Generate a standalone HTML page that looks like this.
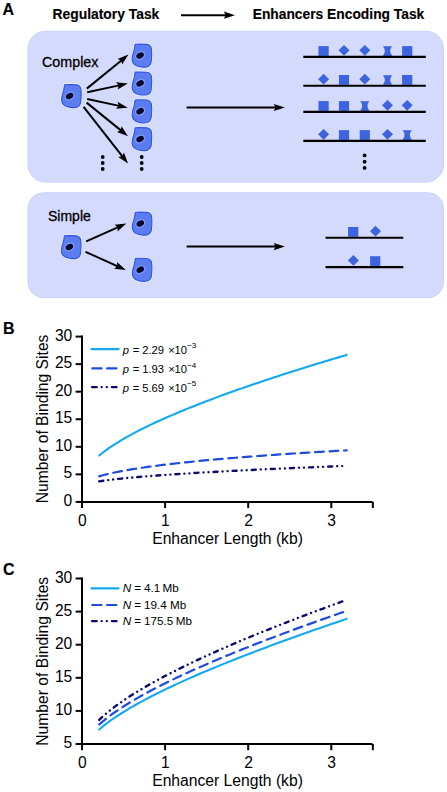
<!DOCTYPE html>
<html><head><meta charset="utf-8"><style>
html,body{margin:0;padding:0;background:#fff;width:447px;height:792px;overflow:hidden}
svg{display:block}
text{font-family:"Liberation Sans",sans-serif;fill:#000;stroke:#000;stroke-width:0px}
.r{stroke-width:0.3px}
.b{font-weight:bold;stroke-width:0.15px}
</style></head><body>
<svg width="447" height="792" viewBox="0 0 447 792">
<text x="2.5" y="14.7" class="b" font-size="16">A</text>
<text x="52.6" y="18.5" class="b" font-size="14" textLength="106.7" lengthAdjust="spacingAndGlyphs">Regulatory Task</text>
<text x="252.7" y="18.5" class="b" font-size="14" textLength="171.6" lengthAdjust="spacingAndGlyphs">Enhancers Encoding Task</text>
<line x1="181.00" y1="15.20" x2="226.20" y2="15.20" stroke="#000" stroke-width="2.0"/>
<path d="M235.00,15.20 L223.80,18.80 L225.70,15.20 L223.80,11.60 Z" fill="#000"/>
<rect x="28" y="31.2" width="415.5" height="150.9" rx="17.5" fill="#d3dafc" stroke="#c9d2fb" stroke-width="1"/>
<rect x="28" y="192.7" width="415.5" height="105" rx="15.5" fill="#d3dafc" stroke="#c9d2fb" stroke-width="1"/>
<text x="42.0" y="66.9" font-size="14.3" class="r">Complex</text>
<text x="48.0" y="220.6" font-size="14" class="r">Simple</text>
<g transform="translate(61.6,84.5) scale(0.1960,0.2310)"><path d="M16,1 C35,0 60,0.5 75,1.5 C88,2.5 96,8 98.5,20 C100.5,32 100,55 97.5,76 C96,88 90,96 76,99 C62,101 45,100.5 30,96.5 C12,92 1,82 0,68 C-0.5,58 4,42 9,30 C12,22 14,12 14.5,5 C14.7,2.5 15,1.2 16,1 Z" fill="none" stroke="#fff" stroke-opacity="0.55" stroke-width="2.6" vector-effect="non-scaling-stroke"/><path d="M16,1 C35,0 60,0.5 75,1.5 C88,2.5 96,8 98.5,20 C100.5,32 100,55 97.5,76 C96,88 90,96 76,99 C62,101 45,100.5 30,96.5 C12,92 1,82 0,68 C-0.5,58 4,42 9,30 C12,22 14,12 14.5,5 C14.7,2.5 15,1.2 16,1 Z" fill="#5b7df0" stroke="#2f52e4" stroke-width="1.1" vector-effect="non-scaling-stroke"/></g>
<ellipse cx="69.60" cy="96.00" rx="5.3" ry="4.1" transform="rotate(-30 69.60 96.00)" fill="#809df8"/>
<ellipse cx="69.60" cy="96.00" rx="4.0" ry="2.8" transform="rotate(-30 69.60 96.00)" fill="#07062e"/>
<g transform="translate(132.1,44.0) scale(0.1960,0.2310)"><path d="M16,1 C35,0 60,0.5 75,1.5 C88,2.5 96,8 98.5,20 C100.5,32 100,55 97.5,76 C96,88 90,96 76,99 C62,101 45,100.5 30,96.5 C12,92 1,82 0,68 C-0.5,58 4,42 9,30 C12,22 14,12 14.5,5 C14.7,2.5 15,1.2 16,1 Z" fill="none" stroke="#fff" stroke-opacity="0.55" stroke-width="2.6" vector-effect="non-scaling-stroke"/><path d="M16,1 C35,0 60,0.5 75,1.5 C88,2.5 96,8 98.5,20 C100.5,32 100,55 97.5,76 C96,88 90,96 76,99 C62,101 45,100.5 30,96.5 C12,92 1,82 0,68 C-0.5,58 4,42 9,30 C12,22 14,12 14.5,5 C14.7,2.5 15,1.2 16,1 Z" fill="#5b7df0" stroke="#2f52e4" stroke-width="1.1" vector-effect="non-scaling-stroke"/></g>
<ellipse cx="140.10" cy="55.50" rx="5.3" ry="4.1" transform="rotate(-30 140.10 55.50)" fill="#809df8"/>
<ellipse cx="140.10" cy="55.50" rx="4.0" ry="2.8" transform="rotate(-30 140.10 55.50)" fill="#07062e"/>
<g transform="translate(132.1,71.9) scale(0.1960,0.2310)"><path d="M16,1 C35,0 60,0.5 75,1.5 C88,2.5 96,8 98.5,20 C100.5,32 100,55 97.5,76 C96,88 90,96 76,99 C62,101 45,100.5 30,96.5 C12,92 1,82 0,68 C-0.5,58 4,42 9,30 C12,22 14,12 14.5,5 C14.7,2.5 15,1.2 16,1 Z" fill="none" stroke="#fff" stroke-opacity="0.55" stroke-width="2.6" vector-effect="non-scaling-stroke"/><path d="M16,1 C35,0 60,0.5 75,1.5 C88,2.5 96,8 98.5,20 C100.5,32 100,55 97.5,76 C96,88 90,96 76,99 C62,101 45,100.5 30,96.5 C12,92 1,82 0,68 C-0.5,58 4,42 9,30 C12,22 14,12 14.5,5 C14.7,2.5 15,1.2 16,1 Z" fill="#5b7df0" stroke="#2f52e4" stroke-width="1.1" vector-effect="non-scaling-stroke"/></g>
<ellipse cx="140.10" cy="83.40" rx="5.3" ry="4.1" transform="rotate(-30 140.10 83.40)" fill="#809df8"/>
<ellipse cx="140.10" cy="83.40" rx="4.0" ry="2.8" transform="rotate(-30 140.10 83.40)" fill="#07062e"/>
<g transform="translate(132.1,99.7) scale(0.1960,0.2310)"><path d="M16,1 C35,0 60,0.5 75,1.5 C88,2.5 96,8 98.5,20 C100.5,32 100,55 97.5,76 C96,88 90,96 76,99 C62,101 45,100.5 30,96.5 C12,92 1,82 0,68 C-0.5,58 4,42 9,30 C12,22 14,12 14.5,5 C14.7,2.5 15,1.2 16,1 Z" fill="none" stroke="#fff" stroke-opacity="0.55" stroke-width="2.6" vector-effect="non-scaling-stroke"/><path d="M16,1 C35,0 60,0.5 75,1.5 C88,2.5 96,8 98.5,20 C100.5,32 100,55 97.5,76 C96,88 90,96 76,99 C62,101 45,100.5 30,96.5 C12,92 1,82 0,68 C-0.5,58 4,42 9,30 C12,22 14,12 14.5,5 C14.7,2.5 15,1.2 16,1 Z" fill="#5b7df0" stroke="#2f52e4" stroke-width="1.1" vector-effect="non-scaling-stroke"/></g>
<ellipse cx="140.10" cy="111.20" rx="5.3" ry="4.1" transform="rotate(-30 140.10 111.20)" fill="#809df8"/>
<ellipse cx="140.10" cy="111.20" rx="4.0" ry="2.8" transform="rotate(-30 140.10 111.20)" fill="#07062e"/>
<g transform="translate(132.1,127.5) scale(0.1960,0.2310)"><path d="M16,1 C35,0 60,0.5 75,1.5 C88,2.5 96,8 98.5,20 C100.5,32 100,55 97.5,76 C96,88 90,96 76,99 C62,101 45,100.5 30,96.5 C12,92 1,82 0,68 C-0.5,58 4,42 9,30 C12,22 14,12 14.5,5 C14.7,2.5 15,1.2 16,1 Z" fill="none" stroke="#fff" stroke-opacity="0.55" stroke-width="2.6" vector-effect="non-scaling-stroke"/><path d="M16,1 C35,0 60,0.5 75,1.5 C88,2.5 96,8 98.5,20 C100.5,32 100,55 97.5,76 C96,88 90,96 76,99 C62,101 45,100.5 30,96.5 C12,92 1,82 0,68 C-0.5,58 4,42 9,30 C12,22 14,12 14.5,5 C14.7,2.5 15,1.2 16,1 Z" fill="#5b7df0" stroke="#2f52e4" stroke-width="1.1" vector-effect="non-scaling-stroke"/></g>
<ellipse cx="140.10" cy="139.00" rx="5.3" ry="4.1" transform="rotate(-30 140.10 139.00)" fill="#809df8"/>
<ellipse cx="140.10" cy="139.00" rx="4.0" ry="2.8" transform="rotate(-30 140.10 139.00)" fill="#07062e"/>
<line x1="86.80" y1="88.60" x2="121.68" y2="60.16" stroke="#000" stroke-width="2.0"/>
<path d="M128.50,54.60 L122.09,64.47 L121.29,60.48 L117.54,58.89 Z" fill="#000"/>
<line x1="87.20" y1="92.30" x2="119.20" y2="85.36" stroke="#000" stroke-width="2.0"/>
<path d="M127.80,83.50 L117.62,89.39 L118.71,85.47 L116.09,82.35 Z" fill="#000"/>
<line x1="87.20" y1="99.00" x2="119.20" y2="105.86" stroke="#000" stroke-width="2.0"/>
<path d="M127.80,107.70 L116.09,108.87 L118.71,105.75 L117.60,101.83 Z" fill="#000"/>
<line x1="86.60" y1="102.60" x2="121.17" y2="130.65" stroke="#000" stroke-width="2.0"/>
<path d="M128.00,136.20 L117.04,131.94 L120.78,130.34 L121.57,126.35 Z" fill="#000"/>
<line x1="83.60" y1="106.80" x2="122.58" y2="156.67" stroke="#000" stroke-width="2.0"/>
<path d="M128.00,163.60 L118.27,156.99 L122.27,156.27 L123.94,152.56 Z" fill="#000"/>
<circle cx="102.7" cy="157" r="1.9" fill="#000"/>
<circle cx="102.7" cy="163" r="1.9" fill="#000"/>
<circle cx="102.7" cy="169" r="1.9" fill="#000"/>
<circle cx="141.7" cy="157" r="1.9" fill="#000"/>
<circle cx="141.7" cy="163" r="1.9" fill="#000"/>
<circle cx="141.7" cy="169" r="1.9" fill="#000"/>
<line x1="186.60" y1="107.50" x2="276.10" y2="107.50" stroke="#000" stroke-width="2.0"/>
<path d="M284.90,107.50 L273.70,111.10 L275.60,107.50 L273.70,103.90 Z" fill="#000"/>
<rect x="318.50" y="46.10" width="10.2" height="9.8" fill="#3d63e0"/>
<path d="M344,44.90 L349.50,50.30 L344,55.70 L338.50,50.30 Z" fill="#3d63e0"/>
<path d="M364.8,44.90 L370.30,50.30 L364.8,55.70 L359.30,50.30 Z" fill="#3d63e0"/>
<path d="M382.90,46.30 L392.10,46.30 Q388.20,51.10 392.10,55.90 L382.90,55.90 Q386.80,51.10 382.90,46.30 Z" fill="#3d63e0"/>
<rect x="402.10" y="46.10" width="10.2" height="9.8" fill="#3d63e0"/>
<line x1="303.3" y1="56.9" x2="425.8" y2="56.9" stroke="#000" stroke-width="2.1"/>
<path d="M323.6,73.80 L329.10,79.20 L323.6,84.60 L318.10,79.20 Z" fill="#3d63e0"/>
<rect x="338.90" y="75.00" width="10.2" height="9.8" fill="#3d63e0"/>
<path d="M364.8,73.80 L370.30,79.20 L364.8,84.60 L359.30,79.20 Z" fill="#3d63e0"/>
<path d="M382.90,75.20 L392.10,75.20 Q388.20,80.00 392.10,84.80 L382.90,84.80 Q386.80,80.00 382.90,75.20 Z" fill="#3d63e0"/>
<rect x="402.10" y="75.00" width="10.2" height="9.8" fill="#3d63e0"/>
<line x1="303.3" y1="85.8" x2="425.8" y2="85.8" stroke="#000" stroke-width="2.1"/>
<rect x="318.50" y="101.10" width="10.2" height="9.8" fill="#3d63e0"/>
<rect x="338.90" y="101.10" width="10.2" height="9.8" fill="#3d63e0"/>
<path d="M360.20,101.30 L369.40,101.30 Q365.50,106.10 369.40,110.90 L360.20,110.90 Q364.10,106.10 360.20,101.30 Z" fill="#3d63e0"/>
<path d="M387.5,99.90 L393.00,105.30 L387.5,110.70 L382.00,105.30 Z" fill="#3d63e0"/>
<path d="M407.2,99.90 L412.70,105.30 L407.2,110.70 L401.70,105.30 Z" fill="#3d63e0"/>
<line x1="303.3" y1="111.9" x2="425.8" y2="111.9" stroke="#000" stroke-width="2.1"/>
<path d="M323.6,128.90 L329.10,134.30 L323.6,139.70 L318.10,134.30 Z" fill="#3d63e0"/>
<rect x="338.90" y="130.10" width="10.2" height="9.8" fill="#3d63e0"/>
<rect x="359.70" y="130.10" width="10.2" height="9.8" fill="#3d63e0"/>
<path d="M387.5,128.90 L393.00,134.30 L387.5,139.70 L382.00,134.30 Z" fill="#3d63e0"/>
<path d="M402.60,130.30 L411.80,130.30 Q407.90,135.10 411.80,139.90 L402.60,139.90 Q406.50,135.10 402.60,130.30 Z" fill="#3d63e0"/>
<line x1="303.3" y1="140.9" x2="425.8" y2="140.9" stroke="#000" stroke-width="2.1"/>
<circle cx="364.6" cy="155.4" r="1.9" fill="#000"/>
<circle cx="364.6" cy="161.7" r="1.9" fill="#000"/>
<circle cx="364.6" cy="167.9" r="1.9" fill="#000"/>
<g transform="translate(61.4,235.5) scale(0.1960,0.2310)"><path d="M16,1 C35,0 60,0.5 75,1.5 C88,2.5 96,8 98.5,20 C100.5,32 100,55 97.5,76 C96,88 90,96 76,99 C62,101 45,100.5 30,96.5 C12,92 1,82 0,68 C-0.5,58 4,42 9,30 C12,22 14,12 14.5,5 C14.7,2.5 15,1.2 16,1 Z" fill="none" stroke="#fff" stroke-opacity="0.55" stroke-width="2.6" vector-effect="non-scaling-stroke"/><path d="M16,1 C35,0 60,0.5 75,1.5 C88,2.5 96,8 98.5,20 C100.5,32 100,55 97.5,76 C96,88 90,96 76,99 C62,101 45,100.5 30,96.5 C12,92 1,82 0,68 C-0.5,58 4,42 9,30 C12,22 14,12 14.5,5 C14.7,2.5 15,1.2 16,1 Z" fill="#5b7df0" stroke="#2f52e4" stroke-width="1.1" vector-effect="non-scaling-stroke"/></g>
<ellipse cx="69.40" cy="247.00" rx="5.3" ry="4.1" transform="rotate(-30 69.40 247.00)" fill="#809df8"/>
<ellipse cx="69.40" cy="247.00" rx="4.0" ry="2.8" transform="rotate(-30 69.40 247.00)" fill="#07062e"/>
<g transform="translate(132.3,212.0) scale(0.1960,0.2310)"><path d="M16,1 C35,0 60,0.5 75,1.5 C88,2.5 96,8 98.5,20 C100.5,32 100,55 97.5,76 C96,88 90,96 76,99 C62,101 45,100.5 30,96.5 C12,92 1,82 0,68 C-0.5,58 4,42 9,30 C12,22 14,12 14.5,5 C14.7,2.5 15,1.2 16,1 Z" fill="none" stroke="#fff" stroke-opacity="0.55" stroke-width="2.6" vector-effect="non-scaling-stroke"/><path d="M16,1 C35,0 60,0.5 75,1.5 C88,2.5 96,8 98.5,20 C100.5,32 100,55 97.5,76 C96,88 90,96 76,99 C62,101 45,100.5 30,96.5 C12,92 1,82 0,68 C-0.5,58 4,42 9,30 C12,22 14,12 14.5,5 C14.7,2.5 15,1.2 16,1 Z" fill="#5b7df0" stroke="#2f52e4" stroke-width="1.1" vector-effect="non-scaling-stroke"/></g>
<ellipse cx="140.30" cy="223.50" rx="5.3" ry="4.1" transform="rotate(-30 140.30 223.50)" fill="#809df8"/>
<ellipse cx="140.30" cy="223.50" rx="4.0" ry="2.8" transform="rotate(-30 140.30 223.50)" fill="#07062e"/>
<g transform="translate(132.3,258.2) scale(0.1960,0.2310)"><path d="M16,1 C35,0 60,0.5 75,1.5 C88,2.5 96,8 98.5,20 C100.5,32 100,55 97.5,76 C96,88 90,96 76,99 C62,101 45,100.5 30,96.5 C12,92 1,82 0,68 C-0.5,58 4,42 9,30 C12,22 14,12 14.5,5 C14.7,2.5 15,1.2 16,1 Z" fill="none" stroke="#fff" stroke-opacity="0.55" stroke-width="2.6" vector-effect="non-scaling-stroke"/><path d="M16,1 C35,0 60,0.5 75,1.5 C88,2.5 96,8 98.5,20 C100.5,32 100,55 97.5,76 C96,88 90,96 76,99 C62,101 45,100.5 30,96.5 C12,92 1,82 0,68 C-0.5,58 4,42 9,30 C12,22 14,12 14.5,5 C14.7,2.5 15,1.2 16,1 Z" fill="#5b7df0" stroke="#2f52e4" stroke-width="1.1" vector-effect="non-scaling-stroke"/></g>
<ellipse cx="140.30" cy="269.70" rx="5.3" ry="4.1" transform="rotate(-30 140.30 269.70)" fill="#809df8"/>
<ellipse cx="140.30" cy="269.70" rx="4.0" ry="2.8" transform="rotate(-30 140.30 269.70)" fill="#07062e"/>
<line x1="86.20" y1="241.40" x2="118.26" y2="227.17" stroke="#000" stroke-width="2.0"/>
<path d="M126.30,223.60 L117.52,231.43 L117.80,227.37 L114.60,224.85 Z" fill="#000"/>
<line x1="85.50" y1="251.80" x2="117.78" y2="266.38" stroke="#000" stroke-width="2.0"/>
<path d="M125.80,270.00 L114.11,268.67 L117.32,266.17 L117.07,262.11 Z" fill="#000"/>
<line x1="186.60" y1="246.60" x2="276.10" y2="246.60" stroke="#000" stroke-width="2.0"/>
<path d="M284.90,246.60 L273.70,250.20 L275.60,246.60 L273.70,243.00 Z" fill="#000"/>
<rect x="348.10" y="227.00" width="10.2" height="9.8" fill="#3d63e0"/>
<path d="M375.5,225.80 L381.00,231.20 L375.5,236.60 L370.00,231.20 Z" fill="#3d63e0"/>
<line x1="325.5" y1="237.8" x2="403.3" y2="237.8" stroke="#000" stroke-width="2.1"/>
<path d="M353.4,255.00 L358.90,260.40 L353.4,265.80 L347.90,260.40 Z" fill="#3d63e0"/>
<rect x="370.10" y="256.20" width="10.2" height="9.8" fill="#3d63e0"/>
<line x1="325.5" y1="267.1" x2="403.3" y2="267.1" stroke="#000" stroke-width="2.1"/>
<text x="3.0" y="334.3" class="b" font-size="16">B</text>
<path d="M82,335.60 L82,501.90 L372.5,501.90" fill="none" stroke="#000" stroke-width="2"/>
<line x1="75.6" y1="501.90" x2="82" y2="501.90" stroke="#000" stroke-width="2"/>
<text x="72.3" y="505.90" font-size="15.6" text-anchor="end">0</text>
<line x1="75.6" y1="474.35" x2="82" y2="474.35" stroke="#000" stroke-width="2"/>
<text x="72.3" y="478.35" font-size="15.6" text-anchor="end">5</text>
<line x1="75.6" y1="446.80" x2="82" y2="446.80" stroke="#000" stroke-width="2"/>
<text x="72.3" y="450.80" font-size="15.6" text-anchor="end">10</text>
<line x1="75.6" y1="419.25" x2="82" y2="419.25" stroke="#000" stroke-width="2"/>
<text x="72.3" y="423.25" font-size="15.6" text-anchor="end">15</text>
<line x1="75.6" y1="391.70" x2="82" y2="391.70" stroke="#000" stroke-width="2"/>
<text x="72.3" y="395.70" font-size="15.6" text-anchor="end">20</text>
<line x1="75.6" y1="364.15" x2="82" y2="364.15" stroke="#000" stroke-width="2"/>
<text x="72.3" y="368.15" font-size="15.6" text-anchor="end">25</text>
<line x1="75.6" y1="336.60" x2="82" y2="336.60" stroke="#000" stroke-width="2"/>
<text x="72.3" y="340.60" font-size="15.6" text-anchor="end">30</text>
<line x1="82.00" y1="501.9" x2="82.00" y2="508.10" stroke="#000" stroke-width="2"/>
<text x="82.30" y="525.5" font-size="15.6" text-anchor="middle">0</text>
<line x1="165.10" y1="501.9" x2="165.10" y2="508.10" stroke="#000" stroke-width="2"/>
<text x="165.40" y="525.5" font-size="15.6" text-anchor="middle">1</text>
<line x1="248.20" y1="501.9" x2="248.20" y2="508.10" stroke="#000" stroke-width="2"/>
<text x="248.50" y="525.5" font-size="15.6" text-anchor="middle">2</text>
<line x1="331.30" y1="501.9" x2="331.30" y2="508.10" stroke="#000" stroke-width="2"/>
<text x="331.60" y="525.5" font-size="15.6" text-anchor="middle">3</text>
<line x1="372.85" y1="501.9" x2="372.85" y2="508.10" stroke="#000" stroke-width="2"/>
<text x="152.2" y="543.8" font-size="16" textLength="150.7" lengthAdjust="spacingAndGlyphs">Enhancer Length (kb)</text>
<text transform="translate(47.6,503.30) rotate(-90)" x="0" y="0" font-size="16" textLength="168.7" lengthAdjust="spacingAndGlyphs">Number of Binding Sites</text>
<polyline points="99.20,455.51 101.98,453.25 104.76,451.11 107.54,449.09 110.32,447.16 113.10,445.30 115.89,443.52 118.67,441.79 121.45,440.12 124.23,438.49 127.01,436.91 129.79,435.36 132.57,433.86 135.35,432.38 138.13,430.93 140.91,429.52 143.69,428.13 146.47,426.76 149.25,425.41 152.03,424.09 154.81,422.79 157.59,421.50 160.37,420.24 163.16,418.99 165.94,417.76 168.72,416.54 171.50,415.34 174.28,414.15 177.06,412.97 179.84,411.81 182.62,410.66 185.40,409.52 188.18,408.39 190.96,407.27 193.74,406.16 196.52,405.07 199.30,403.98 202.08,402.90 204.86,401.83 207.64,400.77 210.42,399.72 213.21,398.67 215.99,397.64 218.77,396.61 221.55,395.59 224.33,394.57 227.11,393.56 229.89,392.56 232.67,391.57 235.45,390.58 238.23,389.60 241.01,388.62 243.79,387.65 246.57,386.69 249.35,385.73 252.13,384.78 254.91,383.83 257.69,382.89 260.48,381.95 263.26,381.02 266.04,380.09 268.82,379.17 271.60,378.25 274.38,377.34 277.16,376.43 279.94,375.52 282.72,374.62 285.50,373.72 288.28,372.83 291.06,371.94 293.84,371.06 296.62,370.17 299.40,369.30 302.18,368.42 304.96,367.55 307.75,366.69 310.53,365.82 313.31,364.96 316.09,364.11 318.87,363.25 321.65,362.40 324.43,361.56 327.21,360.71 329.99,359.87 332.77,359.04 335.55,358.20 338.33,357.37 341.11,356.54 343.89,355.71 346.67,354.89" fill="none" stroke="#12a8f2" stroke-width="2.1" stroke-linecap="round" stroke-linejoin="round"/>
<polyline points="99.20,476.32 101.98,475.52 104.76,474.78 107.54,474.09 110.32,473.44 113.10,472.83 115.89,472.24 118.67,471.68 121.45,471.15 124.23,470.64 127.01,470.14 129.79,469.66 132.57,469.20 135.35,468.76 138.13,468.33 140.91,467.91 143.69,467.50 146.47,467.10 149.25,466.71 152.03,466.33 154.81,465.96 157.59,465.60 160.37,465.25 163.16,464.91 165.94,464.57 168.72,464.24 171.50,463.91 174.28,463.60 177.06,463.28 179.84,462.98 182.62,462.68 185.40,462.38 188.18,462.09 190.96,461.80 193.74,461.52 196.52,461.24 199.30,460.97 202.08,460.70 204.86,460.44 207.64,460.18 210.42,459.92 213.21,459.67 215.99,459.42 218.77,459.17 221.55,458.93 224.33,458.69 227.11,458.45 229.89,458.22 232.67,457.99 235.45,457.76 238.23,457.53 241.01,457.31 243.79,457.09 246.57,456.87 249.35,456.66 252.13,456.44 254.91,456.23 257.69,456.02 260.48,455.82 263.26,455.62 266.04,455.41 268.82,455.21 271.60,455.02 274.38,454.82 277.16,454.63 279.94,454.44 282.72,454.25 285.50,454.06 288.28,453.88 291.06,453.69 293.84,453.51 296.62,453.33 299.40,453.15 302.18,452.97 304.96,452.80 307.75,452.62 310.53,452.45 313.31,452.28 316.09,452.11 318.87,451.94 321.65,451.78 324.43,451.61 327.21,451.45 329.99,451.28 332.77,451.12 335.55,450.96 338.33,450.80 341.11,450.65 343.89,450.49 346.67,450.34" fill="none" stroke="#1f4bdc" stroke-width="2.2" stroke-linecap="round" stroke-linejoin="round" stroke-dasharray="8.8 5.7"/>
<polyline points="99.20,481.40 101.98,480.97 104.76,480.58 107.54,480.21 110.32,479.86 113.10,479.52 115.89,479.21 118.67,478.90 121.45,478.61 124.23,478.32 127.01,478.05 129.79,477.78 132.57,477.53 135.35,477.28 138.13,477.03 140.91,476.80 143.69,476.56 146.47,476.34 149.25,476.12 152.03,475.90 154.81,475.69 157.59,475.48 160.37,475.28 163.16,475.08 165.94,474.88 168.72,474.69 171.50,474.50 174.28,474.31 177.06,474.13 179.84,473.94 182.62,473.77 185.40,473.59 188.18,473.42 190.96,473.24 193.74,473.08 196.52,472.91 199.30,472.74 202.08,472.58 204.86,472.42 207.64,472.26 210.42,472.11 213.21,471.95 215.99,471.80 218.77,471.65 221.55,471.50 224.33,471.35 227.11,471.20 229.89,471.05 232.67,470.91 235.45,470.77 238.23,470.63 241.01,470.49 243.79,470.35 246.57,470.21 249.35,470.07 252.13,469.94 254.91,469.81 257.69,469.67 260.48,469.54 263.26,469.41 266.04,469.28 268.82,469.15 271.60,469.03 274.38,468.90 277.16,468.77 279.94,468.65 282.72,468.53 285.50,468.40 288.28,468.28 291.06,468.16 293.84,468.04 296.62,467.92 299.40,467.80 302.18,467.69 304.96,467.57 307.75,467.45 310.53,467.34 313.31,467.22 316.09,467.11 318.87,467.00 321.65,466.89 324.43,466.77 327.21,466.66 329.99,466.55 332.77,466.44 335.55,466.34 338.33,466.23 341.11,466.12 343.89,466.01 346.67,465.91" fill="none" stroke="#0b0b70" stroke-width="2.4" stroke-linecap="round" stroke-linejoin="round" stroke-dasharray="4.1 5.0 0.01 5.0 0.01 5.0"/>
<line x1="91.5" y1="349.2" x2="118.5" y2="349.2" stroke="#12a8f2" stroke-width="2.3" stroke-linecap="round"/>
<text x="122.80" y="353.70" font-size="11.2" font-style="italic">p</text>
<text x="132.80" y="353.70" font-size="11.2">=</text>
<text x="142.20" y="353.70" font-size="11.2">2.29</text>
<text x="168.20" y="353.70" font-size="11.2">×</text>
<text x="174.60" y="353.70" font-size="11.2">10</text>
<text x="187.20" y="348.40" font-size="8.0">−3</text>
<line x1="92.3" y1="368.4" x2="117.5" y2="368.4" stroke="#1f4bdc" stroke-width="2.2" stroke-linecap="round" stroke-dasharray="9.3 5.5"/>
<text x="122.80" y="372.90" font-size="11.2" font-style="italic">p</text>
<text x="132.80" y="372.90" font-size="11.2">=</text>
<text x="142.20" y="372.90" font-size="11.2">1.93</text>
<text x="168.20" y="372.90" font-size="11.2">×</text>
<text x="174.60" y="372.90" font-size="11.2">10</text>
<text x="187.20" y="367.60" font-size="8.0">−4</text>
<line x1="92.1" y1="387.1" x2="117.6" y2="387.1" stroke="#0b0b70" stroke-width="2.4" stroke-linecap="round" stroke-dasharray="4.6 5.0 0.01 5.1 0.01 5.1"/>
<text x="122.80" y="391.60" font-size="11.2" font-style="italic">p</text>
<text x="132.80" y="391.60" font-size="11.2">=</text>
<text x="142.20" y="391.60" font-size="11.2">5.69</text>
<text x="168.20" y="391.60" font-size="11.2">×</text>
<text x="174.60" y="391.60" font-size="11.2">10</text>
<text x="187.20" y="386.30" font-size="8.0">−5</text>
<text x="3.0" y="574.9" class="b" font-size="16">C</text>
<path d="M82,577.50 L82,744.00 L372.5,744.00" fill="none" stroke="#000" stroke-width="2"/>
<line x1="75.6" y1="744.00" x2="82" y2="744.00" stroke="#000" stroke-width="2"/>
<text x="72.3" y="748.00" font-size="15.6" text-anchor="end">5</text>
<line x1="75.6" y1="710.90" x2="82" y2="710.90" stroke="#000" stroke-width="2"/>
<text x="72.3" y="714.90" font-size="15.6" text-anchor="end">10</text>
<line x1="75.6" y1="677.80" x2="82" y2="677.80" stroke="#000" stroke-width="2"/>
<text x="72.3" y="681.80" font-size="15.6" text-anchor="end">15</text>
<line x1="75.6" y1="644.70" x2="82" y2="644.70" stroke="#000" stroke-width="2"/>
<text x="72.3" y="648.70" font-size="15.6" text-anchor="end">20</text>
<line x1="75.6" y1="611.60" x2="82" y2="611.60" stroke="#000" stroke-width="2"/>
<text x="72.3" y="615.60" font-size="15.6" text-anchor="end">25</text>
<line x1="75.6" y1="578.50" x2="82" y2="578.50" stroke="#000" stroke-width="2"/>
<text x="72.3" y="582.50" font-size="15.6" text-anchor="end">30</text>
<line x1="82.00" y1="744.0" x2="82.00" y2="750.20" stroke="#000" stroke-width="2"/>
<text x="82.30" y="767.6" font-size="15.6" text-anchor="middle">0</text>
<line x1="165.10" y1="744.0" x2="165.10" y2="750.20" stroke="#000" stroke-width="2"/>
<text x="165.40" y="767.6" font-size="15.6" text-anchor="middle">1</text>
<line x1="248.20" y1="744.0" x2="248.20" y2="750.20" stroke="#000" stroke-width="2"/>
<text x="248.50" y="767.6" font-size="15.6" text-anchor="middle">2</text>
<line x1="331.30" y1="744.0" x2="331.30" y2="750.20" stroke="#000" stroke-width="2"/>
<text x="331.60" y="767.6" font-size="15.6" text-anchor="middle">3</text>
<line x1="372.85" y1="744.0" x2="372.85" y2="750.20" stroke="#000" stroke-width="2"/>
<text x="152.2" y="785.8" font-size="16" textLength="150.7" lengthAdjust="spacingAndGlyphs">Enhancer Length (kb)</text>
<text transform="translate(47.6,745.70) rotate(-90)" x="0" y="0" font-size="16" textLength="168.9" lengthAdjust="spacingAndGlyphs">Number of Binding Sites</text>
<polyline points="99.20,729.47 101.98,727.11 104.76,724.87 107.54,722.75 110.32,720.71 113.10,718.76 115.89,716.86 118.67,715.03 121.45,713.25 124.23,711.52 127.01,709.83 129.79,708.18 132.57,706.56 135.35,704.98 138.13,703.43 140.91,701.90 143.69,700.40 146.47,698.92 149.25,697.47 152.03,696.04 154.81,694.62 157.59,693.23 160.37,691.85 163.16,690.49 165.94,689.15 168.72,687.82 171.50,686.51 174.28,685.20 177.06,683.92 179.84,682.64 182.62,681.38 185.40,680.13 188.18,678.89 190.96,677.66 193.74,676.44 196.52,675.23 199.30,674.03 202.08,672.84 204.86,671.65 207.64,670.48 210.42,669.31 213.21,668.16 215.99,667.01 218.77,665.86 221.55,664.73 224.33,663.60 227.11,662.48 229.89,661.37 232.67,660.26 235.45,659.16 238.23,658.06 241.01,656.97 243.79,655.89 246.57,654.81 249.35,653.74 252.13,652.67 254.91,651.61 257.69,650.55 260.48,649.50 263.26,648.45 266.04,647.41 268.82,646.37 271.60,645.34 274.38,644.31 277.16,643.28 279.94,642.26 282.72,641.25 285.50,640.24 288.28,639.23 291.06,638.22 293.84,637.22 296.62,636.23 299.40,635.24 302.18,634.25 304.96,633.26 307.75,632.28 310.53,631.30 313.31,630.33 316.09,629.35 318.87,628.39 321.65,627.42 324.43,626.46 327.21,625.50 329.99,624.54 332.77,623.59 335.55,622.64 338.33,621.69 341.11,620.75 343.89,619.81 346.67,618.87" fill="none" stroke="#12a8f2" stroke-width="2.1" stroke-linecap="round" stroke-linejoin="round"/>
<polyline points="99.20,724.54 101.98,722.09 104.76,719.78 107.54,717.58 110.32,715.48 113.10,713.45 115.89,711.50 118.67,709.61 121.45,707.77 124.23,705.98 127.01,704.24 129.79,702.54 132.57,700.87 135.35,699.24 138.13,697.63 140.91,696.06 143.69,694.51 146.47,692.99 149.25,691.50 152.03,690.02 154.81,688.57 157.59,687.13 160.37,685.71 163.16,684.31 165.94,682.93 168.72,681.56 171.50,680.21 174.28,678.87 177.06,677.55 179.84,676.24 182.62,674.94 185.40,673.66 188.18,672.38 190.96,671.12 193.74,669.86 196.52,668.62 199.30,667.39 202.08,666.17 204.86,664.95 207.64,663.75 210.42,662.55 213.21,661.36 215.99,660.18 218.77,659.01 221.55,657.85 224.33,656.69 227.11,655.54 229.89,654.40 232.67,653.26 235.45,652.13 238.23,651.01 241.01,649.89 243.79,648.78 246.57,647.67 249.35,646.57 252.13,645.48 254.91,644.39 257.69,643.31 260.48,642.23 263.26,641.16 266.04,640.09 268.82,639.03 271.60,637.97 274.38,636.92 277.16,635.87 279.94,634.82 282.72,633.78 285.50,632.75 288.28,631.72 291.06,630.69 293.84,629.66 296.62,628.64 299.40,627.63 302.18,626.62 304.96,625.61 307.75,624.60 310.53,623.60 313.31,622.61 316.09,621.61 318.87,620.62 321.65,619.63 324.43,618.65 327.21,617.67 329.99,616.69 332.77,615.72 335.55,614.75 338.33,613.78 341.11,612.81 343.89,611.85 346.67,610.89" fill="none" stroke="#1f4bdc" stroke-width="2.2" stroke-linecap="round" stroke-linejoin="round" stroke-dasharray="8.8 5.7"/>
<polyline points="99.20,719.87 101.98,717.24 104.76,714.77 107.54,712.41 110.32,710.16 113.10,708.00 115.89,705.91 118.67,703.89 121.45,701.93 124.23,700.03 127.01,698.17 129.79,696.36 132.57,694.58 135.35,692.85 138.13,691.14 140.91,689.47 143.69,687.83 146.47,686.22 149.25,684.63 152.03,683.06 154.81,681.52 157.59,680.00 160.37,678.50 163.16,677.02 165.94,675.56 168.72,674.11 171.50,672.68 174.28,671.27 177.06,669.87 179.84,668.48 182.62,667.11 185.40,665.75 188.18,664.41 190.96,663.08 193.74,661.75 196.52,660.44 199.30,659.14 202.08,657.86 204.86,656.58 207.64,655.31 210.42,654.05 213.21,652.80 215.99,651.56 218.77,650.32 221.55,649.10 224.33,647.88 227.11,646.67 229.89,645.47 232.67,644.27 235.45,643.09 238.23,641.91 241.01,640.73 243.79,639.57 246.57,638.41 249.35,637.25 252.13,636.11 254.91,634.96 257.69,633.83 260.48,632.70 263.26,631.57 266.04,630.45 268.82,629.34 271.60,628.23 274.38,627.13 277.16,626.03 279.94,624.93 282.72,623.84 285.50,622.76 288.28,621.68 291.06,620.60 293.84,619.53 296.62,618.47 299.40,617.40 302.18,616.34 304.96,615.29 307.75,614.24 310.53,613.19 313.31,612.15 316.09,611.11 318.87,610.08 321.65,609.04 324.43,608.02 327.21,606.99 329.99,605.97 332.77,604.95 335.55,603.94 338.33,602.93 341.11,601.92 343.89,600.91 346.67,599.91" fill="none" stroke="#0b0b70" stroke-width="2.4" stroke-linecap="round" stroke-linejoin="round" stroke-dasharray="4.1 5.0 0.01 5.0 0.01 5.0"/>
<line x1="91.5" y1="588.4" x2="118.5" y2="588.4" stroke="#12a8f2" stroke-width="2.3" stroke-linecap="round"/>
<text x="122.80" y="592.40" font-size="11.7" font-style="italic">N</text>
<text x="134.30" y="592.40" font-size="11.7">=</text>
<text x="144.00" y="592.40" font-size="11.7">4.1</text>
<text x="162.50" y="592.40" font-size="11.7">Mb</text>
<line x1="92.3" y1="605.0" x2="117.5" y2="605.0" stroke="#1f4bdc" stroke-width="2.2" stroke-linecap="round" stroke-dasharray="9.3 5.5"/>
<text x="122.80" y="609.00" font-size="11.7" font-style="italic">N</text>
<text x="134.30" y="609.00" font-size="11.7">=</text>
<text x="144.00" y="609.00" font-size="11.7">19.4</text>
<text x="169.90" y="609.00" font-size="11.7">Mb</text>
<line x1="92.1" y1="621.1" x2="117.6" y2="621.1" stroke="#0b0b70" stroke-width="2.4" stroke-linecap="round" stroke-dasharray="4.6 5.0 0.01 5.1 0.01 5.1"/>
<text x="122.80" y="625.10" font-size="11.7" font-style="italic">N</text>
<text x="134.30" y="625.10" font-size="11.7">=</text>
<text x="144.00" y="625.10" font-size="11.7">175.5</text>
<text x="175.70" y="625.10" font-size="11.7">Mb</text>
</svg></body></html>
